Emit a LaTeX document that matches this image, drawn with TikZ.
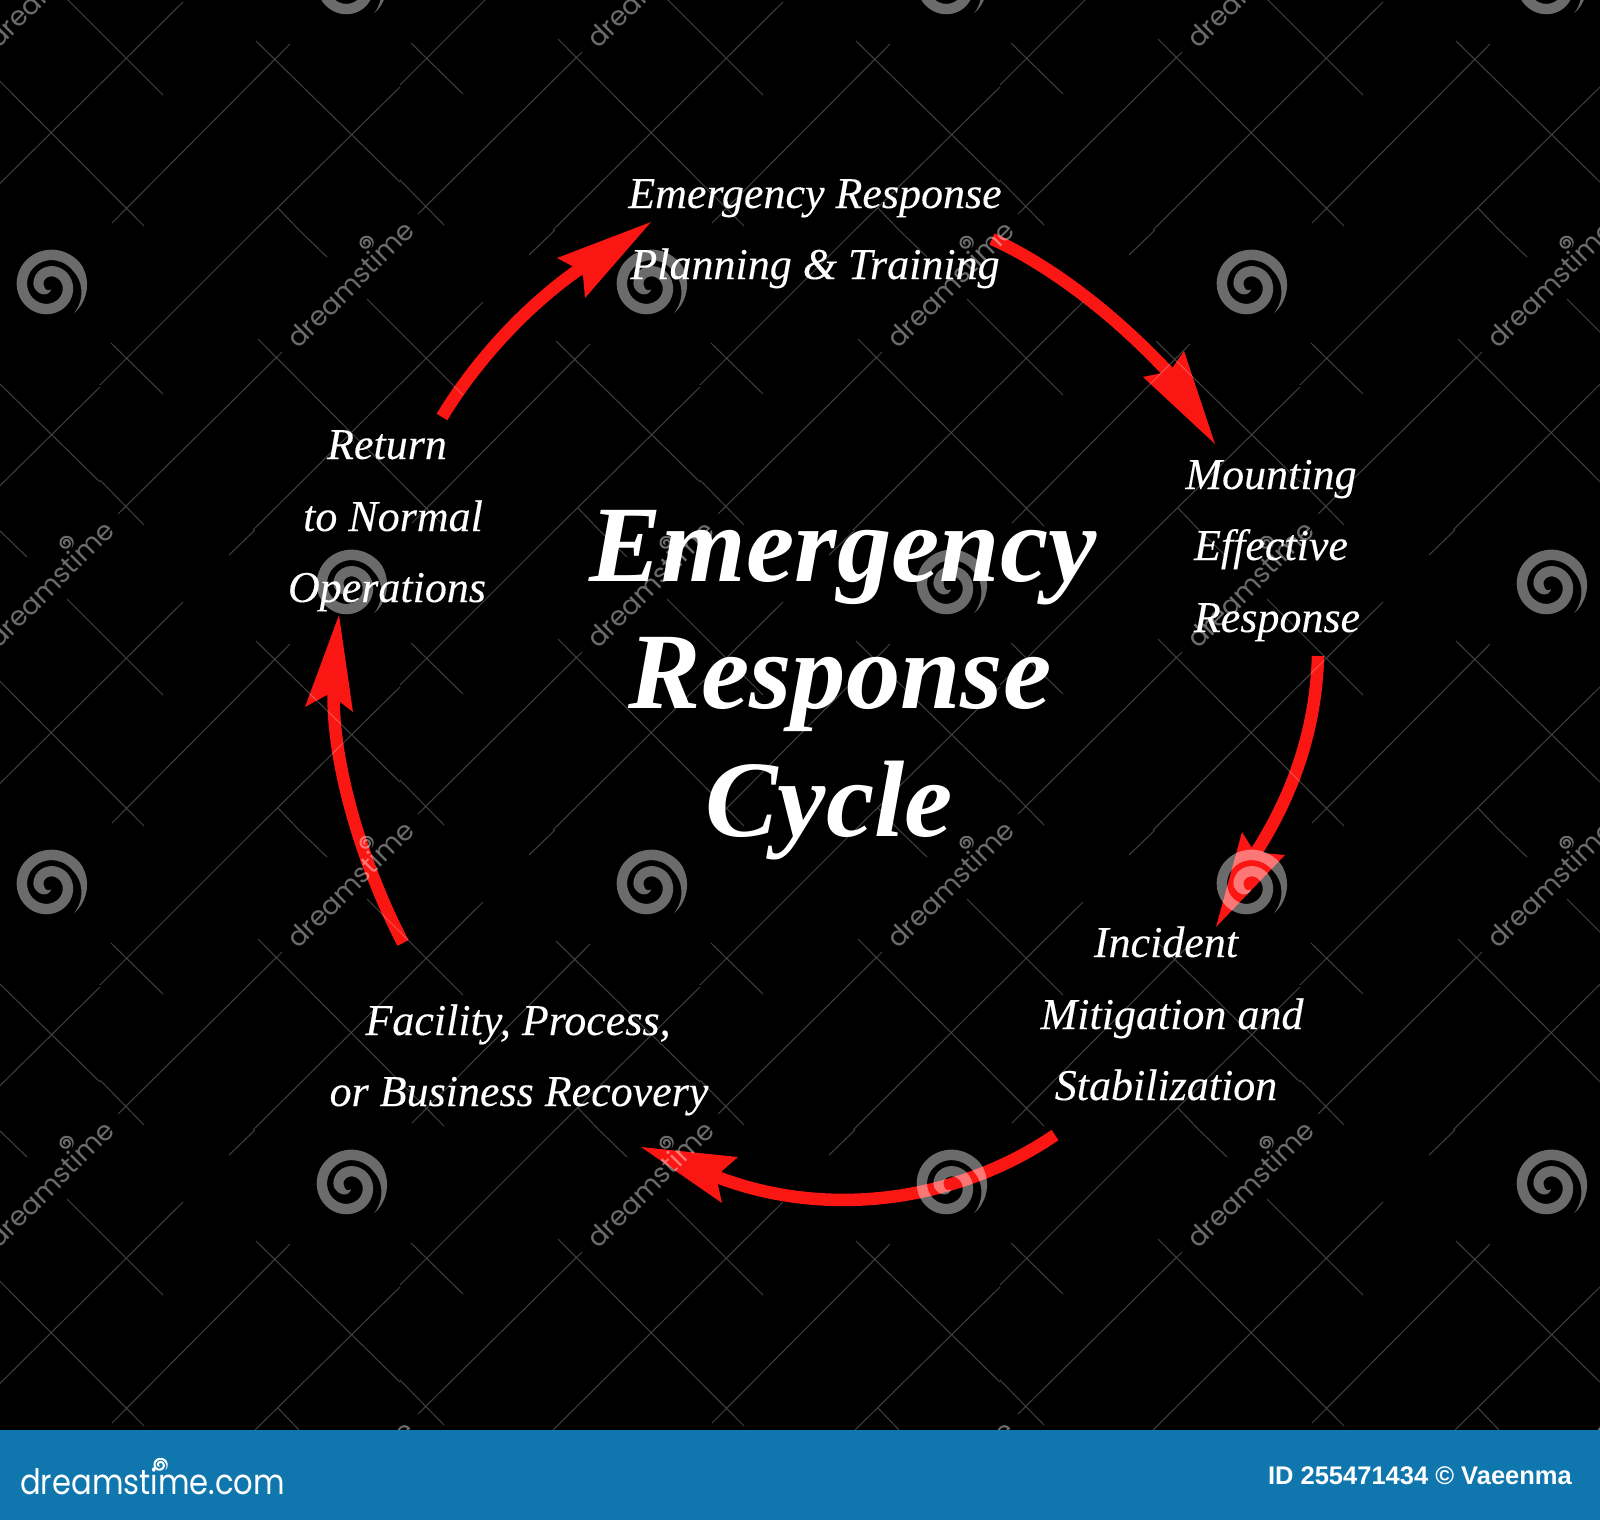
\documentclass[tikz,border=0pt]{standalone}
\usepackage{fontspec}
\setmainfont{Liberation Serif}[ItalicFeatures={FakeBold=0.2}]
\newfontfamily\bannerfont{Liberation Sans}
\newfontfamily\wmfont{Poppins}
\usetikzlibrary{arrows.meta}
\definecolor{arrowred}{RGB}{250,22,18}
\definecolor{bannerblue}{RGB}{15,118,174}
\tikzset{
  x=1pt,y=-1pt,
  cycleshaft/.style={draw=arrowred,line width=12.5pt},
  cyclehead/.style={fill=arrowred,draw=none},
  steplabel/.style={text=white,anchor=base,inner sep=0pt,font=\fontsize{44pt}{44pt}\selectfont\itshape},
  titlelabel/.style={text=white,anchor=base,inner sep=0pt,font=\fontsize{108.7pt}{108.7pt}\selectfont\itshape\bfseries},
  wmmark/.style={fill=white,fill opacity=.42,draw=none},
  logomark/.style={fill=white,draw=none},
  wmword/.style={text=white,text opacity=.42,inner sep=0pt,rotate=45,font=\fontsize{27pt}{27pt}\wmfont},
  wmline/.style={draw=white,draw opacity=.25,line width=1pt},
  declare function={sprr(\t)=37*(\t/767)^0.9; sprw(\t)=10.5*min(1,(767-\t)/80)*min(1,(\t-60)/120);}
}
\newcommand{\wmswirl}[4]{%
  \begin{scope}[shift={(#1,#2)},scale=#3]
    \fill[#4] plot[domain=60:767,samples=110,variable=\t] ({(sprr(\t)+sprw(\t)/2)*cos(\t)},{(sprr(\t)+sprw(\t)/2)*sin(\t)})
      -- plot[domain=767:60,samples=110,variable=\t] ({(sprr(\t)-sprw(\t)/2)*cos(\t)},{(sprr(\t)-sprw(\t)/2)*sin(\t)}) -- cycle;
  \end{scope}}
\newcommand{\wmtile}[2]{%
  \begin{scope}[shift={(#1,#2)}]
    \draw[wmline] (1000,1285)--(1155,1130) (1018,1414)--(1182,1252) (1153,1430)--(1383,1202)
      (1312,1423)--(1490,1244) (1455,1430)--(1600,1287) (1429,1155)--(1455,1130)
      (1011,1243)--(1063,1294) (1158,1239)--(1344,1426) (1267,1199)--(1363,1295)
      (1456,1241)--(1600,1382) (1000,1380)--(1044,1425) (1199,1130)--(1227,1157) (1478,1408)--(1499,1430);
  \end{scope}}
\begin{document}
\begin{tikzpicture}
\useasboundingbox (0,0) rectangle (1600,1520);
\fill[black] (0,0) rectangle (1600,1520);

% arrow 1: planning to mounting
\coordinate (a1s) at (992,239);   \coordinate (a1n) at (1169,373);
\coordinate (a1t) at (1215,444);  \coordinate (a1b) at (1184,351); \coordinate (a1c) at (1173,367);
\coordinate (a1d) at (1162,373);  \coordinate (a1f) at (1143,377);
\draw[cycleshaft] (a1s) .. controls (1050,265) and (1115,315) .. (a1n);
\fill[cyclehead] (a1t)--(a1b)--(a1c)--(a1d)--(a1f)--cycle;
% arrow 2: mounting to mitigation
\coordinate (a2s) at (1318,656);  \coordinate (a2n) at (1255,854);
\coordinate (a2t) at (1216,927);  \coordinate (a2b) at (1285,855); \coordinate (a2c) at (1263,853);
\coordinate (a2d) at (1252,848);  \coordinate (a2f) at (1242,832);
\draw[cycleshaft] (a2s) .. controls (1316,725) and (1296,790) .. (a2n);
\fill[cyclehead] (a2t)--(a2b)--(a2c)--(a2d)--(a2f)--cycle;
% arrow 3: mitigation to recovery
\coordinate (a3s) at (1055,1135); \coordinate (a3n) at (717,1177);
\coordinate (a3t) at (641,1147);  \coordinate (a3b) at (722,1203); \coordinate (a3c) at (718,1185);
\coordinate (a3d) at (722,1171);  \coordinate (a3f) at (738,1157);
\draw[cycleshaft] (a3s) .. controls (965,1197) and (835,1222) .. (a3n);
\fill[cyclehead] (a3t)--(a3b)--(a3c)--(a3d)--(a3f)--cycle;
% arrow 4: recovery to return
\coordinate (a4s) at (403,943);   \coordinate (a4n) at (333.5,694);
\coordinate (a4t) at (339,615);   \coordinate (a4b) at (305,707);  \coordinate (a4c) at (327,695);
\coordinate (a4d) at (340,702);   \coordinate (a4f) at (353,712);
\draw[cycleshaft] (a4s) .. controls (365,870) and (333,770) .. (a4n);
\fill[cyclehead] (a4t)--(a4b)--(a4c)--(a4d)--(a4f)--cycle;
% arrow 5: return to planning
\coordinate (a5s) at (442,417);   \coordinate (a5n) at (581,268);
\coordinate (a5t) at (651,222);   \coordinate (a5b) at (585,298);  \coordinate (a5c) at (583,276);
\coordinate (a5d) at (574,267);   \coordinate (a5f) at (557,258);
\draw[cycleshaft] (a5s) .. controls (470,370) and (520,310) .. (a5n);
\fill[cyclehead] (a5t)--(a5b)--(a5c)--(a5d)--(a5f)--cycle;

% step labels
\node[steplabel] (p1) at (815,208) {Emergency Response};
\node[steplabel] (p2) at (815,279) {Planning \& Training};
\node[steplabel] (m1) at (1271,489) {Mounting};
\node[steplabel] (m2) at (1271,560) {Effective};
\node[steplabel] (m3) at (1277,632) {Response};
\node[steplabel] (i1) at (1166,957) {Incident};
\node[steplabel] (i2) at (1172,1029) {Mitigation and};
\node[steplabel] (i3) at (1166,1100) {Stabilization};
\node[steplabel] (f1) at (518,1035) {Facility, Process,};
\node[steplabel] (f2) at (519,1106) {or Business Recovery};
\node[steplabel] (r1) at (387,459) {Return};
\node[steplabel] (r2) at (393,531) {to Normal};
\node[steplabel] (r3) at (387,602) {Operations};

% title
\node[titlelabel] (t1) at (843,581) {Emergency};
\node[titlelabel] (t2) at (840,708) {Response};
\node[titlelabel] (t3) at (829,836) {Cycle};

% watermark
\begin{scope}
  \clip (0,0) rectangle (1600,1430);
  \foreach \dy in {0,-600,-1200} \foreach \dx in {-1200,-600,0} {\wmtile{\dx}{\dy}}
  \foreach \dy in {-300,-900} \foreach \dx in {-1500,-900,-300,300} {\wmtile{\dx}{\dy}}
  \foreach \cx in {49,649,1249} \foreach \cy in {286,886} {\wmswirl{\cx}{\cy}{1}{wmmark}}
  \foreach \cx in {349,949,1549} \foreach \cy in {-14,586,1186} {\wmswirl{\cx}{\cy}{1}{wmmark}}
  \foreach \cx in {350,950,1550} \foreach \cy in {284,884,1484} {
    \node[wmword] (w\cx\cy) at (\cx,\cy) {dreamstime};
    \wmswirl{\cx+16}{\cy-41}{.2}{wmmark}}
  \foreach \cx in {50,650,1250} \foreach \cy in {-16,584,1184} {
    \node[wmword] (v\cx\cy) at (\cx,\cy) {dreamstime};
    \wmswirl{\cx+16}{\cy-41}{.2}{wmmark}}
\end{scope}

% banner
\fill[bannerblue] (0,1430) rectangle (1600,1520);
\node[text=white,anchor=base west,inner sep=0pt,font=\fontsize{35pt}{35pt}\wmfont] (logo) at (20,1494) {\scalebox{.875}[1]{dreamstime.com}};
\wmswirl{160}{1465}{.2}{logomark}
\node[text=white,anchor=base east,inner sep=0pt,font=\fontsize{25.5pt}{25.5pt}\bannerfont\bfseries] (credit) at (1572,1484) {ID 255471434 © Vaeenma};
\end{tikzpicture}
\end{document}
